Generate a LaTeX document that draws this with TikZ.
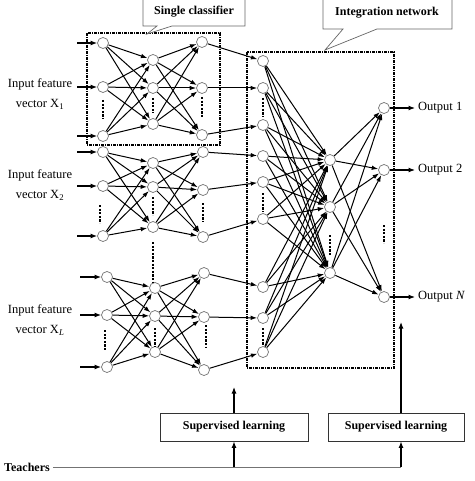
\documentclass[tikz,border=0pt]{standalone}
\usepackage{fontspec}
\setmainfont{Liberation Serif}
\usepackage{tikz}
\usetikzlibrary{arrows.meta,calc,positioning}

\tikzset{
  neuron/.style={circle,draw=black!55,fill=white,line width=0.7pt,minimum size=11pt,inner sep=0pt},
  link/.style={line width=1pt,-{Latex[length=6.5pt,width=4.5pt]}},
  inarrow/.style={line width=1.4pt,-{Latex[length=6.5pt,width=5pt]}},
  vdots/.style={line width=2.8pt,dash pattern=on 2.2pt off 1.4pt},
  frame/.style={line width=1.3pt,dash pattern=on 3pt off 1pt on 1pt off 1pt},
  callout/.style={draw=black!60,line width=0.7pt,fill=white},
  bold/.style={font=\fontsize{12}{14}\selectfont\bfseries},
  learnbox/.style={draw=black!80,line width=0.9pt,minimum height=28pt,inner sep=0pt,bold},
  txt/.style={font=\fontsize{12.5}{20}\selectfont},
}

\begin{document}
\begin{tikzpicture}[x=1pt,y=-1pt,font=\fontsize{12.5}{15}\selectfont]
\useasboundingbox (0,0) rectangle (474,481);
%Eingaenge der drei Einzel-Klassifikatoren mit Startpunkt der Pfeile
\foreach \n/\x/\y/\s in {a-1/103/43/77, a-2/103/87/77, a-3/103/136/77,
                         b-1/103/152/77, b-2/103/186/77, b-3/103/236/77,
                         c-1/107/277/80, c-2/107/315/80, c-3/107/367/80}{
  \node[neuron] (x-\n) at (\x,\y) {};
  \coordinate (s-\n) at (\s,\y);
  \draw[inarrow] (s-\n) -- (x-\n);
}
\foreach \n/\x/\y in {a-1/153/60, a-2/153/88, a-3/153/124,
                      b-1/153/163, b-2/153/187, b-3/153/227,
                      c-1/155/288, c-2/155/316, c-3/155/352}
  \node[neuron] (h-\n) at (\x,\y) {};
\foreach \n/\x/\y in {a-1/202/42, a-2/202/88, a-3/202/135,
                      b-1/203/152, b-2/203/190, b-3/203/237,
                      c-1/204/273, c-2/204/317, c-3/204/370}
  \node[neuron] (y-\n) at (\x,\y) {};
\foreach \b in {a,b,c}{
  \foreach \i in {1,2,3}{
    \foreach \j in {1,2,3}{
      \draw[link] (x-\b-\i) -- (h-\b-\j);
      \draw[link] (h-\b-\i) -- (y-\b-\j);
    }
  }
}
%Integrationsnetz
\foreach \i/\y in {1/61,2/88,3/125,4/156,5/182,6/219,7/287,8/318,9/352}
  \node[neuron] (u-\i) at (263,\y) {};
\foreach \i/\y in {1/160,2/207,3/273}
  \node[neuron] (v-\i) at (330,\y) {};
\foreach \i/\y in {1/108,2/170,3/297}
  \node[neuron] (w-\i) at (384,\y) {};
\foreach \f/\t in {a-1/1,a-2/2,a-3/3,b-1/4,b-2/5,b-3/6,c-1/7,c-2/8,c-3/9}
  \draw[link] (y-\f) -- (u-\t);
\foreach \i in {1,...,9}{
  \foreach \j in {1,2,3}{
    \draw[link] (u-\i) -- (v-\j);
  }
}
\foreach \i in {1,2,3}{
  \foreach \j in {1,2,3}{
    \draw[link] (v-\i) -- (w-\j);
  }
}
%Ausgaenge
\foreach \i/\txt in {1/Output 1, 2/Output 2, 3/Output \textit{N}}{
  \coordinate (e-\i) at (415,0 |- w-\i);
  \draw[inarrow,line width=1.1pt] (w-\i) -- (e-\i);
  \node[anchor=west,inner sep=0pt] (o-\i) at ($(e-\i)+(3,0)$) {\txt};
}
%Punkte
\foreach \x/\ya/\yb in {103/100/119, 153/98/113, 202/97/118,
                        100/205/223, 153/197/215, 203/203/222,
                        153/242/283,
                        105/330/350, 155/328/347, 206/325/347,
                        263/98/117, 263/193/212, 263/328/345,
                        330/235/255, 384/225/243}
  \draw[vdots] (\x,\ya) -- (\x,\yb);
%gestrichelte Rahmen
\draw[frame] (87,33) rectangle (220,145);
\draw[frame] (247,52) rectangle (394,368);
%Sprechblasen
\draw[callout] (143,-3) -- (143,26) -- (157,26) -- (147,34) -- (172,26) -- (245,26) -- (245,-3);
\node[bold] (lbl-single) at (194,12) {Single classifier};
\draw[callout] (323,-3) -- (323,29) -- (343,29) -- (325,50) -- (377,29) -- (452,29) -- (452,-3);
\node[bold] (lbl-integ) at (387,13) {Integration network};
%Eingangstexte
\node[txt,align=center] (lab-a) at (40,94) {Input feature\\vector X\textsubscript{1}};
\node[txt,align=center] (lab-b) at (40,185) {Input feature\\vector X\textsubscript{2}};
\node[txt,align=center] (lab-c) at (40,320) {Input feature\\vector X\textsubscript{\textit{L}}};
%Lernen
\node[learnbox,minimum width=148pt] (sl-1) at (234,427) {Supervised learning};
\node[learnbox,minimum width=136pt] (sl-2) at (396,427) {Supervised learning};
\coordinate (t-1) at (234,387);
\coordinate (t-2) at (401,322);
\draw[inarrow,line width=1.1pt] (sl-1) -- (t-1);
\draw[inarrow,line width=1.1pt] (sl-2.north -| t-2) -- (t-2);
\node[bold,anchor=west,inner sep=0pt] (teach) at (4,467) {Teachers};
\coordinate (j-1) at (234,467);
\coordinate (j-2) at (401,467);
\draw[black!55,line width=0.8pt] ($(teach.east)+(3,0)$) -- (j-2);
\draw[inarrow,line width=1.1pt] (j-1) -- (sl-1);
\draw[inarrow,line width=1.1pt] (j-2) -- (sl-2.south -| j-2);
\end{tikzpicture}
\end{document}
